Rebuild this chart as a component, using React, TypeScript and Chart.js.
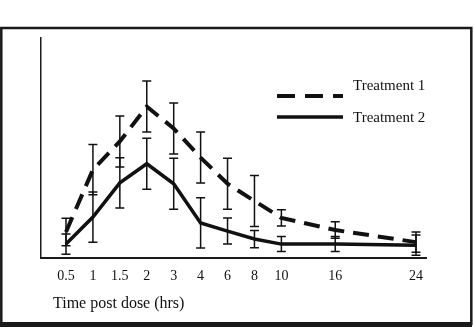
import React, { useEffect, useRef } from "react";
import { Chart, registerables } from "chart.js";

Chart.register(...registerables);

// Time points (blank slots keep the original irregular spacing of the axis)
const timeLabels = ["0.5", "1", "1.5", "2", "3", "4", "6", "8", "10", "", "16", "", "", "24"];
const treatment1 = [11.9, 40.2, 53.0, 68.9, 58.9, 45.7, 33.8, 26.0, 18.3, null, 12.8, null, null, 7.3];
const treatment1Err = [6.2, 11.4, 11.6, 11.6, 11.6, 11.6, 11.6, 11.6, 3.7, null, 3.7, null, null, 4.6];
const treatment2 = [6.4, 18.7, 34.2, 42.9, 33.8, 16.0, 12.3, 8.7, 6.4, null, 6.4, null, null, 5.9];
const treatment2Err = [4.6, 11.4, 11.4, 11.6, 11.6, 11.4, 5.9, 3.9, 3.4, null, 3.4, null, null, 4.6];
const seriesNames = ["Treatment 1", "Treatment 2"];
const axisTitle = "Time post dose (hrs)";

const FONT = "'Liberation Serif', 'DejaVu Serif', serif";
const INK = "#111";

const errors = [treatment1Err, treatment2Err];

const toPoints = (vals: (number | null)[]) =>
  vals.map((v, i) => ({ x: i, y: v })).filter((p) => p.y !== null);

const decorPlugin = {
  id: "decor",
  beforeDraw(chart: any) {
    const ctx = chart.ctx;
    ctx.save();
    ctx.fillStyle = "#fff";
    ctx.fillRect(0, 0, chart.width, chart.height);
    ctx.strokeStyle = "#1a1a1a";
    ctx.lineWidth = 2.5;
    ctx.strokeRect(1.3, 28, 470, 296);
    ctx.fillStyle = "#1a1a1a";
    ctx.fillRect(0, 322, chart.width - 2, 5);
    ctx.restore();
  },
  afterDatasetsDraw(chart: any) {
    const ctx = chart.ctx;
    const yScale = chart.scales.y;
    ctx.save();
    ctx.strokeStyle = INK;
    ctx.lineWidth = 1.5;
    chart.data.datasets.forEach((ds: any, di: number) => {
      const meta = chart.getDatasetMeta(di);
      ds.data.forEach((p: any, j: number) => {
        const e = errors[di][p.x];
        if (e == null) return;
        const el = meta.data[j];
        const x = el.x;
        const yTop = yScale.getPixelForValue(p.y + e);
        const yBot = yScale.getPixelForValue(p.y - e);
        ctx.beginPath();
        ctx.moveTo(x, yTop);
        ctx.lineTo(x, yBot);
        ctx.moveTo(x - 4.5, yTop);
        ctx.lineTo(x + 4.5, yTop);
        ctx.moveTo(x - 4.5, yBot);
        ctx.lineTo(x + 4.5, yBot);
        ctx.stroke();
      });
    });
    ctx.restore();
  },
  afterDraw(chart: any) {
    const ctx = chart.ctx;
    const area = chart.chartArea;
    ctx.save();
    ctx.fillStyle = INK;
    ctx.textBaseline = "middle";
    ctx.textAlign = "left";
    ctx.font = `16px ${FONT}`;
    ctx.fillText(axisTitle, area.left + 12, area.bottom + 46);

    // legend
    const lx0 = area.left + 236;
    const lx1 = area.left + 302;
    const rows = [
      { y: 96, ty: 86 },
      { y: 117, ty: 118 },
    ];
    chart.data.datasets.forEach((ds: any, i: number) => {
      ctx.beginPath();
      ctx.strokeStyle = ds.borderColor;
      ctx.lineWidth = ds.borderWidth;
      ctx.setLineDash(i === 0 ? [18, 10] : []);
      ctx.moveTo(lx0, rows[i].y);
      ctx.lineTo(lx1, rows[i].y);
      ctx.stroke();
      ctx.setLineDash([]);
      ctx.font = `15px ${FONT}`;
      ctx.fillText(ds.label, lx1 + 10, rows[i].ty);
    });
    ctx.restore();
  },
};

export default function App() {
  const ref = useRef<HTMLCanvasElement>(null);

  useEffect(() => {
    if (!ref.current) return;
    const unit = 350 / 13;
    const chart = new Chart(ref.current, {
      type: "line",
      data: {
        datasets: [
          {
            label: seriesNames[0],
            data: toPoints(treatment1) as any,
            borderColor: INK,
            borderWidth: 4,
            borderDash: [16, 9],
            pointRadius: 0,
            tension: 0,
            fill: false,
          },
          {
            label: seriesNames[1],
            data: toPoints(treatment2) as any,
            borderColor: INK,
            borderWidth: 3.5,
            pointRadius: 0,
            tension: 0,
            fill: false,
          },
        ],
      },
      options: {
        animation: false,
        responsive: false,
        devicePixelRatio: 1,
        layout: { padding: { left: 41, right: 48, top: 38, bottom: 32 } },
        plugins: { legend: { display: false }, tooltip: { enabled: false } },
        scales: {
          x: {
            type: "linear",
            min: -25 / unit,
            max: 13 + 10 / unit,
            grid: { display: false, drawTicks: false },
            border: { display: true, color: "#1a1a1a", width: 2 },
            afterBuildTicks: (scale: any) => {
              scale.ticks = timeLabels
                .map((l, i) => ({ value: i, label: l }))
                .filter((t) => t.label !== "")
                .map((t) => ({ value: t.value }));
            },
            ticks: {
              padding: 10,
              color: INK,
              font: { family: FONT, size: 14 },
              maxRotation: 0,
              autoSkip: false,
              callback: (v: any) => timeLabels[Math.round(Number(v))] ?? "",
            },
          },
          y: {
            min: 0,
            max: 100,
            grid: { display: false, drawTicks: false },
            border: { display: true, color: "#1a1a1a", width: 1.5 },
            ticks: { display: false },
          },
        },
      },
      plugins: [decorPlugin],
    });
    return () => chart.destroy();
  }, []);

  return (
    <div style={{ position: "fixed", left: 0, top: 0, width: 474, height: 327 }}>
      <canvas ref={ref} width={474} height={327} style={{ width: 474, height: 327 }} />
    </div>
  );
}
